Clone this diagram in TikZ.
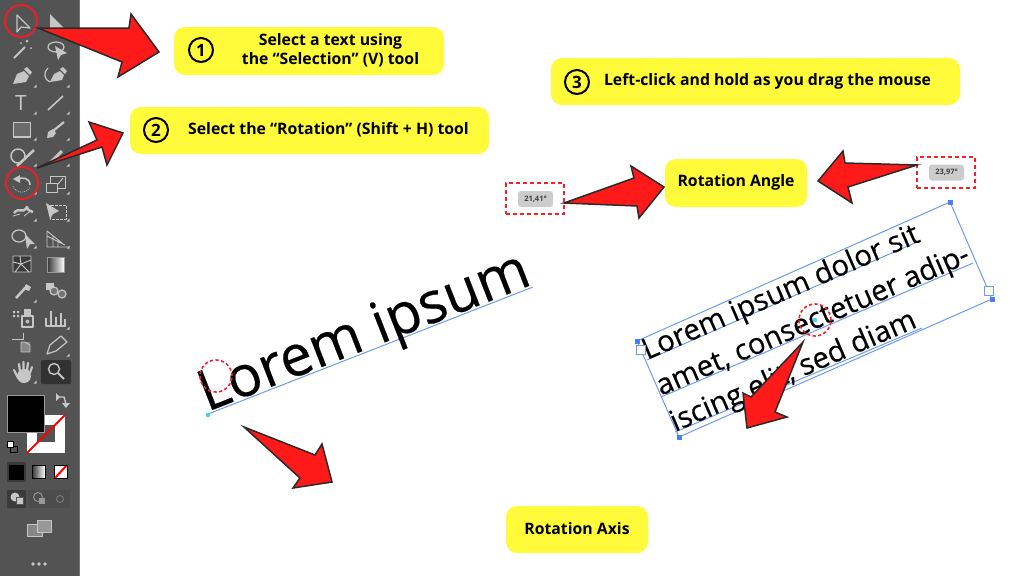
\documentclass[tikz,border=0pt]{standalone}
\usepackage{fontspec}
\setmainfont{Open Sans}
\newfontfamily\heavysans[FakeBold=0.35]{Open Sans}
\usepackage{tikz}
\usetikzlibrary{positioning,calc}
\definecolor{panelgray}{HTML}{535353}
\definecolor{icongray}{HTML}{C6C6C6}
\definecolor{darkbtn}{HTML}{323232}
\definecolor{callyellow}{HTML}{FFFB3B}
\definecolor{pointred}{HTML}{FF1A1A}
\definecolor{pointedge}{HTML}{2A2A2A}
\definecolor{ringred}{HTML}{E8202A}
\definecolor{dashred}{HTML}{F5202A}
\definecolor{guideblue}{HTML}{6E9BF2}
\definecolor{handleblue}{HTML}{4C7FEF}
\definecolor{pivotcyan}{HTML}{45D0F0}
\begin{document}
\begin{tikzpicture}[
    x=1pt, y=-1pt,
    callout/.style={rectangle, fill=callyellow, rounded corners=11pt, inner sep=0pt},
    calltext/.style={font=\fontsize{15.8}{19.5}\selectfont\bfseries, align=center, inner sep=0pt},
    stepnum/.style={circle, draw=black, line width=2pt, minimum size=24pt, inner sep=0pt, font=\fontsize{17}{17}\selectfont\bfseries},
    pointer/.style={fill=pointred, draw=pointedge, line width=1.5pt, line join=miter},
    ring/.style={circle, draw=ringred, line width=2pt, minimum size=32pt, inner sep=0pt},
    dashring/.style={circle, draw=dashred, line width=1.6pt, dash pattern=on 3.2pt off 2.4pt, minimum size=32pt, inner sep=0pt},
    dashbox/.style={rectangle, draw=dashred, line width=1.7pt, dash pattern=on 4pt off 3pt, minimum width=58pt, minimum height=31pt, inner sep=0pt},
    badge/.style={rectangle, fill=black!20, rounded corners=3pt, minimum width=35pt, minimum height=16pt, inner sep=0pt, font=\fontsize{7.5}{8}\selectfont\bfseries, text=black!75},
    guide/.style={draw=guideblue, line width=1pt},
    handle/.style={fill=handleblue, minimum size=5pt, inner sep=0pt, rectangle},
    sidehandle/.style={draw=guideblue, fill=white, line width=0.8pt, minimum size=9pt, inner sep=0pt, rectangle},
    pivot/.style={fill=pivotcyan, circle, minimum size=4.5pt, inner sep=0pt},
    icon/.style={draw=icongray, line width=1.2pt, line join=round},
    iconfill/.style={fill=icongray},
    lorem/.style={font=\heavysans\fontsize{57}{57}\selectfont, anchor=base west, inner sep=0pt, rotate=21.4},
    para/.style={font=\heavysans\fontsize{29.2}{30}\selectfont, anchor=base west, inner sep=0pt, rotate=23.4}
]
\useasboundingbox (0,0) rectangle (1024,576);

% Tool panel
\fill[panelgray] (0,0) rectangle (79,576);
\draw[black!55, line width=0.7pt] (79.3,0) -- (79.3,576);

% Flyout marks
\foreach \fx/\fy in {35/86,68/86,35/113,68/113,35/139,68/139,35/165,68/165,35/193,68/193,35/220,68/220,35/247,68/247,35/301,68/328,68/355,35/382}
    \fill[iconfill] (\fx-1.5,\fy+1.5) -- (\fx+1.5,\fy+1.5) -- (\fx+1.5,\fy-1.5) -- cycle;

% Selection tools
\draw[icon] (17,15) -- (30,28) -- (21,27) -- (17,32) -- cycle;
\fill[iconfill] (50,14) -- (64,28) -- (50,28) -- cycle;
% Wand and lasso
\draw[icon, line width=1.8pt] (14,58) -- (25,47);
\fill[iconfill] (27,41) circle (1.5) (31,48) circle (1) (21,43) circle (1);
\draw[icon] (56,47) ellipse (8 and 5);
\fill[iconfill] (55,46) -- (67,53) -- (61,55) -- (58,60) -- cycle;
% Pen and curvature
\fill[iconfill] (13,84) -- (17,74) -- (24,71) -- (29,76) -- (26,82) -- cycle;
\fill[iconfill] (24,69) -- (27,67) -- (32,72) -- (30,75) -- cycle;
\fill[iconfill] (50,82) -- (54,74) -- (60,71) -- (64,75) -- (62,80) -- cycle;
\fill[iconfill] (60,69) -- (63,67) -- (67,71) -- (65,74) -- cycle;
\draw[icon] (50,82) .. controls (44,80) and (43,72) .. (48,68);
% Type and line
\node[font=\fontsize{21}{21}\selectfont\rmfamily, text=icongray, inner sep=0pt] (typeicon) at (21,103) {T};
\draw[icon, line width=1.6pt] (48,110) -- (63,96);
% Rectangle and brush
\draw[icon, line width=1.5pt, fill=black!15!panelgray!80!white] (13.5,122.5) rectangle (30.5,137);
\draw[icon, line width=2.2pt] (53,131) -- (64,122);
\fill[iconfill] (47,138) -- (48,132) -- (53,129) -- (56,133) -- (53,137) -- cycle;
% Shaper and pencil
\draw[icon, line width=1.5pt] (18,156) circle (7);
\draw[icon, line width=2.6pt] (17,166) -- (34,150);
\draw[icon, line width=3pt] (50,163) -- (62,151);
% Rotate and scale
\draw[icon, line width=1.6pt] (17,180) .. controls (22,176) and (30,178) .. (30,185);
\fill[iconfill] (13,179) -- (20,175) -- (20,183) -- cycle;
\draw[icon, line width=0.7pt, dash pattern=on 1pt off 1pt] (13,186) .. controls (15,194) and (27,194) .. (30,187);
\draw[icon, line width=1pt] (50,176) rectangle (65,188);
\draw[icon, line width=1pt, fill=panelgray] (46,183) rectangle (57,192);
\draw[icon, line width=0.9pt] (58,184) -- (63,178);
% Warp and free transform
\draw[icon, line width=2.4pt] (14,213) .. controls (20,206) and (22,215) .. (27,207) .. controls (28,212) and (31,210) .. (33,212);
\draw[icon, line width=0.8pt] (13,216) -- (20,214) (24,216) -- (32,210);
\draw[icon, line width=0.9pt, dash pattern=on 3pt off 1pt] (50,205) rectangle (66,219);
\fill[iconfill] (46,203) -- (59,211) -- (53,214) -- (50,219) -- cycle;
% Shape builder and perspective
\draw[icon] (19,236) ellipse (7 and 6);
\fill[iconfill] (25,234) -- (35,244) -- (30,244) -- (27,249) -- cycle;
\draw[icon, line width=0.9pt] (47,231) -- (47,247) -- (68,247) (47,231) -- (62,243) (47,236) -- (65,245) (53,236) -- (53,247) (58,240) -- (58,247);
% Mesh and gradient
\fill[black!30!panelgray] (13,256) rectangle (31,272);
\draw[icon, line width=0.9pt] (13,256) rectangle (31,272) (13,262) -- (21,264) -- (31,260) (15,272) -- (21,264) -- (20,256) (21,264) -- (29,272);
\shade[left color=black!80, right color=white] (47,257) rectangle (64,272);
\draw[icongray!60!panelgray, line width=0.5pt] (47,257) rectangle (64,272);
% Eyedropper and blend
\draw[icon, line width=2.6pt] (16,298) -- (27,286);
\fill[iconfill] (26,284) -- (31,287) -- (29,291) -- (24,289) -- cycle;
\fill[iconfill] (46,283) rectangle (54,290);
\draw[icon, fill=panelgray!80!white] (54,291) circle (4);
\draw[icon, fill=panelgray!80!white] (62,294) circle (4);
% Symbol sprayer and graph
\draw[icon, line width=1.1pt, fill=panelgray] (22,316) rectangle (33,327);
\fill[iconfill] (24,309) rectangle (31,315);
\draw[icon] (27.5,321.5) circle (1.5);
\fill[iconfill] (13,311) rectangle (15,313) (17,311) rectangle (19,313) (13,315) rectangle (15,317) (17,315) rectangle (19,317);
\draw[icon, line width=1.3pt] (46,318) -- (46,326) -- (66,326) (51,326) -- (51,311) (56,326) -- (56,317) (61,326) -- (61,313) (65,326) -- (65,319);
% Artboard and slice
\draw[icon, line width=0.9pt] (12,339) -- (23,339) -- (23,333);
\fill[panelgray!70!white] (21,342) rectangle (30,352);
\draw[icon, line width=0.9pt] (21,352) -- (30,352) -- (30,345) -- (25,342) -- (21,342) -- cycle;
\draw[icon] (47,354) -- (50,345) -- (61,336) -- (67,342) -- (56,351) -- cycle;
% Hand and zoom
\fill[iconfill] (20,370) rectangle (29,378);
\fill[iconfill] (24,376) circle (7);
\draw[icongray, line width=2.2pt, line cap=round] (20,372) -- (19,364) (23.5,371) -- (23.5,362) (27,371) -- (28,363) (30,373) -- (32,367) (18,378) -- (14,370);
\fill[darkbtn, rounded corners=2pt] (41,360) rectangle (71,384);
\draw[icongray, line width=1.4pt] (54,369) circle (5.5);
\draw[icongray, line width=2pt] (58,373) -- (64,379);
% Fill and stroke
\fill[white] (27,415) rectangle (65,453);
\fill[panelgray] (37,425) rectangle (55,442);
\draw[red, line width=1.8pt] (27,453) -- (65,415);
\fill[black] (7,395) rectangle (44,432);
\draw[black!40, line width=1pt] (7,395) rectangle (44,432);
\draw[icon, line width=1.4pt] (56,397) -- (64,397) -- (66,404);
\fill[iconfill] (56,393) -- (56,401) -- (60,397) -- cycle (62,403) -- (70,403) -- (66,408) -- cycle;
\draw[black, fill=panelgray, line width=0.8pt] (10,446) rectangle (17,452);
\draw[black, fill=white, line width=0.6pt] (7,441) rectangle (13,447);
% Colour buttons
\fill[black!30!panelgray] (7,462) rectangle (26,482);
\fill[black] (9,465) rectangle (24,480);
\shade[left color=black!80, right color=white] (32,465) rectangle (45,478);
\draw[black, line width=0.7pt] (32,465) rectangle (45,478);
\fill[white] (54,465) rectangle (67,478);
\draw[red, line width=2pt] (55,478) -- (67,465);
\draw[black, line width=0.7pt] (54,465) rectangle (67,478);
% Draw modes
\fill[black!30!panelgray, rounded corners=1pt] (7,490) rectangle (26,508);
\fill[iconfill] (15,497) circle (4.5);
\draw[panelgray, fill=icongray, line width=0.6pt] (16,497) rectangle (23,504);
\fill[black!8!panelgray] (28,490) rectangle (70,508);
\draw[black!15!icongray!80!panelgray, line width=0.9pt] (38,497) circle (4.5);
\fill[black!15!icongray!80!panelgray] (39,498) rectangle (45,504);
\draw[icongray!40!panelgray, line width=0.8pt] (60,499) circle (3.5);
% Screen mode
\draw[icon, line width=1pt, fill=panelgray!70!white] (27,524) rectangle (42,536);
\draw[icon, line width=1pt, fill=panelgray!60!white] (37,520) rectangle (51,532);
% Dots
\foreach \dx in {33,39,45}
    \fill[iconfill] (\dx,564) circle (1.8);

% Lorem ipsum sample
\draw[guide] (208,414) -- (533,287);
\node[lorem] (samplehead) at (207,412) {Lorem ipsum};
\node[pivot] (samplepivot) at (208,415) {};
\node[dashring] (samplering) at (216,376) {};

% Paragraph sample
\coordinate (boxa) at (637,341);
\coordinate (boxb) at (950,202);
\coordinate (boxc) at (992,299);
\coordinate (boxd) at (679,437);
\draw[guide] (boxa) -- (boxb) -- (boxc) -- (boxd) -- cycle;
\draw[guide] (647,360) -- (917,242);
\draw[guide] (661,397) -- (973,263);
\draw[guide] (675,432) -- (922,328);
\node[para] (paraone) at (647,360) {Lorem ipsum dolor sit};
\node[para] (paratwo) at (661,396) {amet, consectetuer adip-};
\node[para] (parathree) at (675,432) {iscing elit, sed diam};
\node[handle] (handlea) at (boxa) {};
\node[handle] (handleb) at (boxb) {};
\node[handle] (handlec) at (boxc) {};
\node[handle] (handled) at (boxd) {};
\node[sidehandle] (sidea) at (641,350) {};
\node[sidehandle] (sideb) at (989,291) {};
\node[pivot] (parapivot) at (815,320) {};
\node[dashring] (pararing) at (815,320) {};

% Tool rings
\node[ring] (selring) at (21,21) {};
\node[ring] (rotring) at (22,183) {};

% Angle readouts
\node[dashbox] (anglebox) at (946,172.5) {};
\node[badge] (anglebadge) at (946.5,172.5) {23,97°};
\node[dashbox] (pastbox) at (534.8,198.2) {};
\node[badge] (pastbadge) at (535.5,199) {21,41°};

% Callouts
\node[callout, minimum width=270pt, minimum height=48pt] (boxone) at (309,51) {};
\node[callout, minimum width=359pt, minimum height=47pt] (boxtwo) at (309.5,130.5) {};
\node[callout, minimum width=409pt, minimum height=47pt] (boxthree) at (755.5,81.5) {};
\node[callout, minimum width=142pt, minimum height=48pt] (boxangle) at (736,183) {};
\node[callout, minimum width=142pt, minimum height=47pt] (boxaxis) at (577,529.5) {};

\node[stepnum] (numone) at (201,50) {1};
\node[stepnum] (numtwo) at (156,130) {2};
\node[stepnum] (numthree) at (577,82) {3};
\node[calltext] (textone) at (330.5,50) {Select a text using\\the “Selection” (V) tool};
\node[calltext] (texttwo) at (328.5,130) {Select the “Rotation” (Shift + H) tool};
\node[calltext] (textthree) at (767.5,81) {Left-click and hold as you drag the mouse};
\node[calltext] (textangle) at (736,182) {Rotation Angle};
\node[calltext] (textaxis) at (577,529) {Rotation Axis};

% Red arrows
\draw[pointer] (38,28) -- (129,28) -- (131,14) -- (159,52) -- (118,77) -- (122,62) -- cycle;
\draw[pointer] (37,168) -- (97,140) -- (89,122) -- (123,133) -- (107,165) -- (102,147) -- cycle;
\draw[pointer] (564,203) -- (634,178) -- (631,166) -- (664,187) -- (639,218) -- (637,206) -- cycle;
\draw[pointer] (917,165) -- (845,163) -- (843,151) -- (818,181) -- (852,203) -- (848,187) -- cycle;
\draw[pointer] (803,342) -- (775,412) -- (787,417) -- (747,428) -- (743,393) -- (751,397) -- cycle;
\draw[pointer] (244,427) -- (315,455) -- (322,444) -- (332,482) -- (293,488) -- (300,478) -- cycle;
\end{tikzpicture}
\end{document}
